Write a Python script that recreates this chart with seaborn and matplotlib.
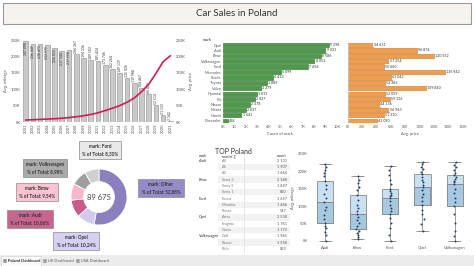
import numpy as np
import pandas as pd
import matplotlib
matplotlib.use("Agg")
import matplotlib.pyplot as plt
import seaborn as sns
from matplotlib.patches import Rectangle

W, H = 474, 266

# top-left: avg mileage (bars) and avg price (line) per year
years = [str(y) for y in range(2001, 2022)]
avg_mileage = [247898, 236449, 238473, 233979, 226055, 217344, 217998, 206367, 194336, 189503,
               185424, 173746, 162264, 149119, 135026, 119988, 104467, 86479, 52514, 21133, 2342]
avg_price = [6000, 7000, 8000, 9000, 10000, 11500, 13500, 16000, 19000, 23000,
             28000, 35000, 42000, 50000, 60000, 73000, 92000, 115000, 148000, 184000, 202000]

# top-middle / top-right: per brand
brands = ["Opel", "Audi", "Bmw", "Volkswagen", "Ford", "Mercedes", "Skoda", "Toyota",
          "Volvo", "Hyundai", "Kia", "Nissan", "Mazda", "Honda", "Chevrolet"]
brand_counts = [9298, 9021, 8586, 8053, 7456, 5099, 4423, 3889, 3379, 3011, 2827, 2378, 2037, 1641, 468]
brand_price = [34631, 96874, 120552, 57254, 50660, 135942, 61042, 52283, 109840,
               52059, 59126, 44336, 56943, 51310, 41090]

# donut: share of total
donut_marks = ["Other", "Opel", "Audi", "Bmw", "Volkswagen", "Ford"]
donut_share = [52.88, 10.24, 10.06, 9.54, 8.98, 8.30]
donut_total = 89675

# table: TOP Poland
table_mark = ["Audi", "", "", "Bmw", "", "", "Ford", "", "", "Opel", "", "", "Volkswagen", "", ""]
table_model = ["A4", "A6", "A3", "Seria 3", "Seria 5", "Seria 1", "Focus", "Mondeo", "Fiesta",
               "Astra", "Insignia", "Corsa", "Golf", "Passat", "Polo"]
table_count = [2131, 1907, 1664, 2348, 1887, 820, 1657, 1446, 547, 2538, 1761, 1172, 1965, 1558, 823]

# boxplot: avg mileage per model/year (K)
box_marks = ["Audi", "Bmw", "Ford", "Opel", "Volkswagen"]
audi_pts = [1, 18, 27, 36, 44, 51, 62, 74, 88, 97, 111, 123, 134, 148, 160, 172, 186, 194, 203, 212, 221]
bmw_pts = [5, 11, 17, 22, 29, 35, 44, 53, 61, 70, 77, 86, 95, 104, 118, 131, 145, 156, 167, 176, 187]
ford_pts = [0, 18, 38, 52, 66, 77, 86, 95, 104, 114, 123, 128, 133, 138, 143, 148, 163, 176, 190, 204, 215]
opel_pts = [30, 48, 62, 76, 90, 103, 114, 125, 136, 146, 156, 162, 169, 176, 184, 192, 199, 206, 213, 220, 227]
vw_pts = [1, 14, 30, 52, 78, 99, 112, 124, 137, 150, 163, 168, 173, 178, 184, 189, 196, 204, 212, 219, 227]

sns.set_theme(style="white")
plt.rcParams["font.family"] = ["Lato", "DejaVu Sans"]
TXT = "#555555"
FS = 3


def sp(v):
    return f"{v:,}".replace(",", " ")


def kfmt(v, _=None):
    return f"{int(v / 1000)}K"


fig = plt.figure(figsize=(W / 100, H / 100), dpi=100)


def axes_px(x0, y0, x1, y1):
    return fig.add_axes([x0 / W, 1 - y1 / H, (x1 - x0) / W, (y1 - y0) / H])


def clean(ax, fs=FS):
    for s in ax.spines.values():
        s.set_visible(False)
    ax.tick_params(length=0, labelsize=fs, colors=TXT, pad=1)


# title bar
fig.patches.append(Rectangle((3 / W, 1 - 24 / H), 468 / W, 21 / H, transform=fig.transFigure,
                             fc="#f6f3ef", ec="#9a9a9a", lw=0.8))
fig.text(237 / W, 1 - 14 / H, "Car Sales in Poland", ha="center", va="center", fontsize=7, color="#333333")

# ---- top-left bars + line
ax = axes_px(22, 40, 174, 122)
sns.barplot(x=list(range(len(years))), y=avg_mileage, ax=ax, color="#c9c9c9",
            edgecolor="#8a8a8a", linewidth=0.4, width=0.65, native_scale=True)
ax.set_xlim(-0.5, len(years) - 0.5)
ax.set_ylim(0, 250000)
ax.set_xticks(range(len(years)))
ax.set_xticklabels(years, rotation=90)
ax.set_yticks(range(0, 250001, 50000))
ax.yaxis.set_major_formatter(kfmt)
ax.set_ylabel("Avg. mileage", fontsize=FS, color=TXT, labelpad=2)
clean(ax)
for i, v in enumerate(avg_mileage):
    if v > 210000:
        ax.text(i, v - 3000, sp(v), rotation=90, ha="center", va="top", fontsize=2.4, color="#333333")
    else:
        ax.text(i, v + 3000, sp(v), rotation=90, ha="center", va="bottom", fontsize=2.4, color="#333333")
ax2 = ax.twinx()
sns.lineplot(x=list(range(len(years))), y=avg_price, ax=ax2, color="#d3195a", linewidth=1.2)
ax2.set_ylim(0, 250000)
ax2.set_yticks(range(0, 250001, 50000))
ax2.yaxis.set_major_formatter(kfmt)
ax2.set_ylabel("Avg. price", fontsize=FS, color=TXT, labelpad=3)
clean(ax2)

# ---- top-middle green bars
ax = axes_px(223, 42.3, 337, 123.4)
sns.barplot(x=brand_counts, y=brands, orient="h", ax=ax, color="#4f9a4a",
            edgecolor="#2f6b2c", linewidth=0.4, width=0.8, saturation=1)
ax.set_xlim(0, 10000)
ax.set_xticks(range(0, 10001, 1000))
ax.xaxis.set_major_formatter(kfmt)
ax.set_xlabel("Count of mark", fontsize=FS, color=TXT, labelpad=2)
ax.set_ylabel("")
clean(ax, 2.8)
for i, v in enumerate(brand_counts):
    ax.text(v + 80, i, sp(v), va="center", ha="left", fontsize=2.6, color="#333333",
            bbox=dict(fc="white", ec="none", pad=0.2))
fig.text(203 / W, 1 - 40 / H, "mark", fontsize=FS, color="#333333", va="center")

# ---- top-right orange bars
ax = axes_px(348, 42.3, 472, 123.4)
sns.barplot(x=brand_price, y=brands, orient="h", ax=ax, color="#f29d4b",
            edgecolor="#c0742c", linewidth=0.4, width=0.8, saturation=1)
ax.set_xlim(0, 173000)
ax.set_xticks(range(0, 160001, 20000))
ax.xaxis.set_major_formatter(kfmt)
ax.set_yticklabels([])
ax.set_xlabel("Avg. price", fontsize=FS, color=TXT, labelpad=2)
ax.set_ylabel("")
clean(ax, 2.5)
ax.axvline(0, color="#cccccc", lw=0.5)
for i, v in enumerate(brand_price):
    ax.text(v + 1000, i, sp(v), va="center", ha="left", fontsize=2.6, color="#333333",
            bbox=dict(fc="white", ec="none", pad=0.2))

# ---- donut
ax = axes_px(64, 162, 134, 232)
donut_colors = ["#8b80bd", "#cfcaf0", "#c75a86", "#f7b6cb", "#9e9e9e", "#cfcfcf"]
ax.pie(donut_share, colors=donut_colors, startangle=90, counterclock=False,
       wedgeprops=dict(width=0.45, edgecolor="white", linewidth=0.6))
ax.set_aspect("equal")
ax.text(0, 0, sp(donut_total), ha="center", va="center", fontsize=5.5, color="#444444")
box_pos = {"Ford": (100, 150), "Volkswagen": (45, 168), "Bmw": (37, 192),
           "Audi": (30, 219), "Opel": (76, 241), "Other": (161, 188)}
box_fc = {"Ford": "#e9e9e9", "Volkswagen": "#ababab", "Bmw": "#f9c3d4",
          "Audi": "#c9648e", "Opel": "#d6d1f3", "Other": "#958bc8"}
for m, s in zip(donut_marks, donut_share):
    x, y = box_pos[m]
    lbl = f"mark: {m}\n% of Total: {s:.2f}%".replace(".", ",")
    fig.text(x / W, 1 - y / H, lbl, ha="center", va="center", fontsize=3.3, color="#333333",
             fontweight="bold", linespacing=1.4,
             bbox=dict(fc=box_fc[m], ec="#8a8a8a", lw=0.5, boxstyle="square,pad=0.7"))

# ---- table
fig.text(233 / W, 1 - 151 / H, "TOP Poland", ha="center", va="center", fontsize=5, color="#333333")
row0, dy = 160.7, 6.3
fig.text(199 / W, 1 - 156 / H, "mark", fontsize=2.8, color="#333333", va="center")
fig.text(222 / W, 1 - 156 / H, "model \u2195", fontsize=2.8, color="#333333", va="center")
fig.text(287 / W, 1 - 156 / H, "count", fontsize=2.8, color="#333333", va="center", ha="right")
for i in range(len(table_model)):
    y = row0 + i * dy
    if i % 2 == 1:
        fig.patches.append(Rectangle((218 / W, 1 - (y + dy / 2) / H), 72 / W, dy / H,
                                     transform=fig.transFigure, fc="#f2f2f2", ec="none"))
    fig.text(199 / W, 1 - y / H, table_mark[i], fontsize=2.8, color="#333333", va="center")
    fig.text(222 / W, 1 - y / H, table_model[i], fontsize=2.8, color="#777777", va="center")
    fig.text(287 / W, 1 - y / H, sp(table_count[i]), fontsize=2.8, color="#555555", va="center", ha="right")
fig.add_artist(plt.Line2D([244 / W, 244 / W], [1 - 153 / H, 1 - 252 / H], color="#dddddd", lw=0.5))

# ---- boxplot
box_df = pd.DataFrame({
    "mark": sum([[m] * 21 for m in box_marks], []),
    "mileage": [v * 1000 for v in audi_pts + bmw_pts + ford_pts + opel_pts + vw_pts],
})
ax = axes_px(309, 150, 471, 245)
sns.boxplot(data=box_df, x="mark", y="mileage", ax=ax, color="#c8e0f0", whis=(0, 100),
            width=0.5, showfliers=False, linecolor="#8a8a8a", linewidth=0.6, saturation=1)
for i, m in enumerate(box_marks):
    vals = box_df.loc[box_df.mark == m, "mileage"]
    q1, med = np.percentile(vals, [25, 50])
    ax.bar(i, med - q1, bottom=q1, width=0.5, color="#a6c9df", edgecolor="#8a8a8a",
           linewidth=0.6, zorder=2.05)
    ax.hlines([vals.min(), vals.max()], i - 0.2, i + 0.2, color="#8a8a8a", lw=0.6, zorder=2.1)
sns.stripplot(data=box_df, x="mark", y="mileage", ax=ax, color="#1f3b66", size=1.4,
              jitter=0.04, zorder=3)
ax.set_ylim(-11500, 261000)
ax.set_yticks(range(0, 250001, 50000))
ax.yaxis.set_major_formatter(kfmt)
ax.set_xlabel("")
ax.set_ylabel("Avg. mileage", fontsize=FS, color=TXT, labelpad=2)
clean(ax)

# ---- bottom tabs
fig.patches.append(Rectangle((0, 0), 1, 11 / H, transform=fig.transFigure, fc="#ececec", ec="none"))
fig.patches.append(Rectangle((1 / W, 0), 40 / W, 10 / H, transform=fig.transFigure, fc="#fafafa", ec="#cccccc", lw=0.4))
fig.text(3 / W, 1 - 260.7 / H, "\u25a4 Poland Dashboard", fontsize=2.9, fontweight="bold", color="#333333", va="center")
fig.text(43 / W, 1 - 260.7 / H, "\u25a4 UK Dashboard", fontsize=2.9, color="#555555", va="center")
fig.text(76 / W, 1 - 260.7 / H, "\u25a4 USA Dashboard", fontsize=2.9, color="#555555", va="center")

fig.savefig("out.png", dpi=100)
